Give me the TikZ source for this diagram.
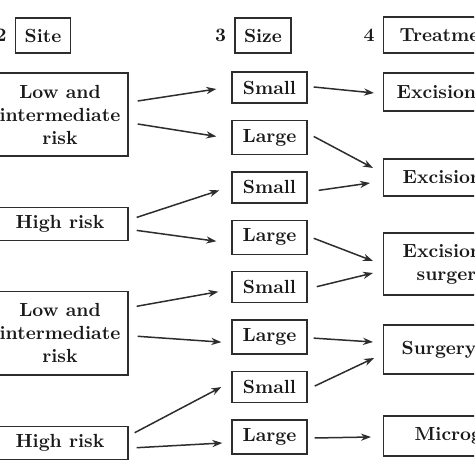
\documentclass[tikz,border=0pt]{standalone}
\usetikzlibrary{positioning, calc, arrows.meta}
\definecolor{lineGray}{RGB}{45,45,45}
\definecolor{textDark}{RGB}{25,25,25}

\begin{document}
\begin{tikzpicture}[
        x=0.5pt, y=-0.5pt,
        font=\fontsize{9.5pt}{11.5pt}\selectfont\bfseries,
        every node/.style={text=textDark},
        head/.style={draw=lineGray, line width=0.7pt, inner xsep=4.5pt, minimum height=17.5pt},
        num/.style={inner xsep=4pt},
        risk/.style={draw=lineGray, line width=0.7pt, align=center, minimum width=68pt, inner ysep=2pt},
        sizebox/.style={draw=lineGray, line width=0.7pt, minimum width=37.5pt, minimum height=15.5pt, inner ysep=4.3pt},
        treat/.style={draw=lineGray, line width=0.7pt, anchor=west, align=left, text width=60pt, inner ysep=2pt},
        link/.style={draw=lineGray, line width=0.75pt, -{Stealth[length=5pt, width=3.6pt]}}
      ]
        \useasboundingbox (0,0) rectangle (474,474);
        \clip (0,0) rectangle (474,474);

        % column headers
        \node[head] (site) at (43,35.5) {Site};
        \node[num, left=0pt of site] (n2) {2};
        \node[head] (size) at (263,35.5) {Size};
        \node[num, left=0pt of size] (n3) {3};
        \node[treat, inner xsep=8pt, minimum height=18pt] (treat) at (383,35) {Treatment};
        \node[num, left=0pt of treat] (n4) {4};

        % site
        \node[risk, minimum height=41.5pt] (lo1) at (60,114.5) {Low and\\intermediate\\risk};
        \node[risk, minimum height=16.5pt, below=25pt of lo1] (hi1) {High risk};
        \node[risk, minimum height=41.5pt, below=25pt of hi1] (lo2) {Low and\\intermediate\\risk};
        \node[risk, minimum height=16.5pt, below=25pt of lo2] (hi2) {High risk};

        % size
        \node[sizebox] (sm1) at (269.5,87.5) {Small};
        \node[sizebox, below=8pt of sm1] (lg1) {Large};
        \node[sizebox, below=8pt of lg1] (sm2) {Small};
        \node[sizebox, below=8pt of sm2] (lg2) {Large};
        \node[sizebox, below=8pt of lg2] (sm3) {Small};
        \node[sizebox, below=8pt of sm3] (lg3) {Large};
        \node[sizebox, below=8pt of lg3] (sm4) {Small};
        \node[sizebox, below=8pt of sm4] (lg4) {Large};

        % treatment
        \node[treat, inner xsep=6.5pt, minimum height=19pt] (ex1) at (383,92) {Excision};
        \node[treat, inner xsep=9.5pt, minimum height=18.5pt] (ex2) at (383,177.5) {Excision};
        \node[treat, inner xsep=9.5pt, minimum height=31pt] (exs) at (383,264) {Excision\\\hspace*{7pt}surgery};
        \node[treat, inner xsep=9pt, minimum height=24.5pt] (surg) at (383,349.5) {Surgery};
        \node[treat, inner xsep=15.5pt, minimum height=20pt] (micro) at (383,436) {Microg};

        % site -> size
        \draw[link] ($(lo1.east)+(9,-13.5)$) -- ($(sm1.west)+(-15,1.5)$);
        \draw[link] ($(lo1.east)+(9,9.5)$) -- ($(lg1.west)+(-15,-1)$);
        \draw[link] ($(hi1.east)+(8,-6.5)$) -- ($(sm2.west)+(-12,3)$);
        \draw[link] ($(hi1.east)+(8,6.5)$) -- ($(lg2.west)+(-15,4)$);
        \draw[link] ($(lo2.east)+(8,-27)$) -- ($(sm3.west)+(-13,4.5)$);
        \draw[link] ($(lo2.east)+(9,3)$) -- ($(lg3.west)+(-10,5)$);
        \draw[link] ($(hi2.east)+(6,-10)$) -- ($(sm4.west)+(-10,0)$);
        \draw[link] ($(hi2.east)+(8,5)$) -- ($(lg4.west)+(-9,6)$);

        % size -> treatment
        \draw[link] ($(sm1.east)+(6,-0.5)$) -- ($(ex1.west)+(-9,1)$);
        \draw[link] ($(lg1.east)+(6,-1)$) -- ($(ex2.west)+(-10,-9.5)$);
        \draw[link] ($(sm2.east)+(11,3)$) -- ($(ex2.west)+(-13,5.5)$);
        \draw[link] ($(lg2.east)+(6,1)$) -- ($(exs.west)+(-10,-3)$);
        \draw[link] ($(sm3.east)+(9,-0.5)$) -- ($(exs.west)+(-10,9)$);
        \draw[link] ($(lg3.east)+(6,1)$) -- ($(surg.west)+(-10,-7.5)$);
        \draw[link] ($(sm4.east)+(7,-1)$) -- ($(surg.west)+(-9,8.5)$);
        \draw[link] ($(lg4.east)+(7,1)$) -- ($(micro.west)+(-12,1)$);
      \end{tikzpicture}
\end{document}
